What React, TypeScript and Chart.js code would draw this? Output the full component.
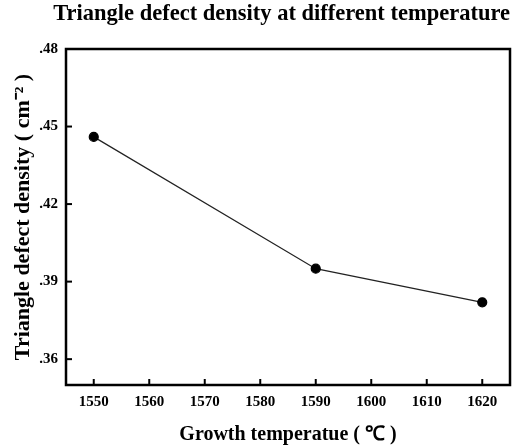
import { useEffect, useRef } from 'react'
import { Chart, registerables } from 'chart.js'
import type { Plugin } from 'chart.js'

Chart.register(...registerables)

const temperatures = [1550, 1590, 1620]
const densities = [0.446, 0.395, 0.382]
const xTicks = [1550, 1560, 1570, 1580, 1590, 1600, 1610, 1620]
const yTicks = [0.36, 0.39, 0.42, 0.45, 0.48]

const FONT = "'Liberation Serif', 'Times New Roman', serif"

// box round the plot with short inward ticks
const framePlugin: Plugin<'scatter'> = {
  id: 'frame',
  afterDraw(chart) {
    const { ctx, chartArea } = chart
    const { left, right, top, bottom } = chartArea
    const x = chart.scales.x
    const y = chart.scales.y
    ctx.save()
    ctx.strokeStyle = '#000'
    ctx.lineWidth = 2
    x.ticks.forEach((_, i) => {
      const px = x.getPixelForTick(i)
      ctx.beginPath()
      ctx.moveTo(px, bottom)
      ctx.lineTo(px, bottom - 6)
      ctx.stroke()
    })
    y.ticks.forEach((_, i) => {
      const py = y.getPixelForTick(i)
      ctx.beginPath()
      ctx.moveTo(left, py)
      ctx.lineTo(left + 6, py)
      ctx.stroke()
    })
    ctx.lineWidth = 2.5
    ctx.strokeRect(left, top, right - left, bottom - top)
    ctx.restore()
  },
}

export default function App() {
  const canvasRef = useRef<HTMLCanvasElement>(null)

  useEffect(() => {
    if (!canvasRef.current) return
    const chart = new Chart(canvasRef.current, {
      type: 'scatter',
      data: {
        datasets: [
          {
            data: temperatures.map((t, i) => ({ x: t, y: densities[i] })),
            showLine: true,
            borderColor: '#222',
            borderWidth: 1.2,
            backgroundColor: '#000',
            pointBackgroundColor: '#000',
            pointBorderColor: '#000',
            pointRadius: 4.5,
          },
        ],
      },
      options: {
        animation: false,
        responsive: true,
        maintainAspectRatio: false,
        layout: { padding: { top: 0, right: 10, bottom: 0, left: 0 } },
        plugins: {
          legend: { display: false },
          tooltip: { enabled: false },
          title: {
            display: true,
            align: 'end',
            text: 'Triangle defect density at different temperature',
            color: '#000',
            font: { family: FONT, size: 22.5, weight: 'bold' },
            padding: { top: 1, bottom: 21 },
          },
        },
        scales: {
          x: {
            type: 'linear',
            min: 1545,
            max: 1625,
            afterBuildTicks: (scale) => {
              scale.ticks = xTicks.map((v) => ({ value: v }))
            },
            afterFit: (scale) => {
              scale.height = 63
            },
            grid: { display: false, drawTicks: false },
            border: { display: false },
            ticks: {
              color: '#000',
              padding: 8,
              maxRotation: 0,
              font: { family: FONT, size: 15, weight: 'bold' },
              callback: (v) => String(v),
            },
            title: {
              display: true,
              text: 'Growth temperatue ( ℃ )',
              color: '#000',
              font: { family: FONT, size: 20, weight: 'bold' },
              padding: { top: 0, bottom: 1 },
            },
          },
          y: {
            type: 'linear',
            min: 0.35,
            max: 0.48,
            afterBuildTicks: (scale) => {
              scale.ticks = yTicks.map((v) => ({ value: v }))
            },
            afterFit: (scale) => {
              scale.width = 66
            },
            grid: { display: false, drawTicks: false },
            border: { display: false },
            ticks: {
              color: '#000',
              padding: 8,
              font: { family: FONT, size: 15, weight: 'bold' },
              callback: (v) => Number(v).toFixed(2).replace(/^0/, ''),
            },
            title: {
              display: true,
              text: 'Triangle defect density ( cm⁻² )',
              color: '#000',
              font: { family: FONT, size: 22, weight: 'bold' },
              padding: { top: 10, bottom: 0 },
            },
          },
        },
      },
      plugins: [framePlugin],
    })
    return () => {
      chart.destroy()
    }
  }, [])

  return (
    <div style={{ position: 'fixed', left: 0, top: 0, width: 520, height: 448, background: '#fff' }}>
      <canvas ref={canvasRef} />
    </div>
  )
}
